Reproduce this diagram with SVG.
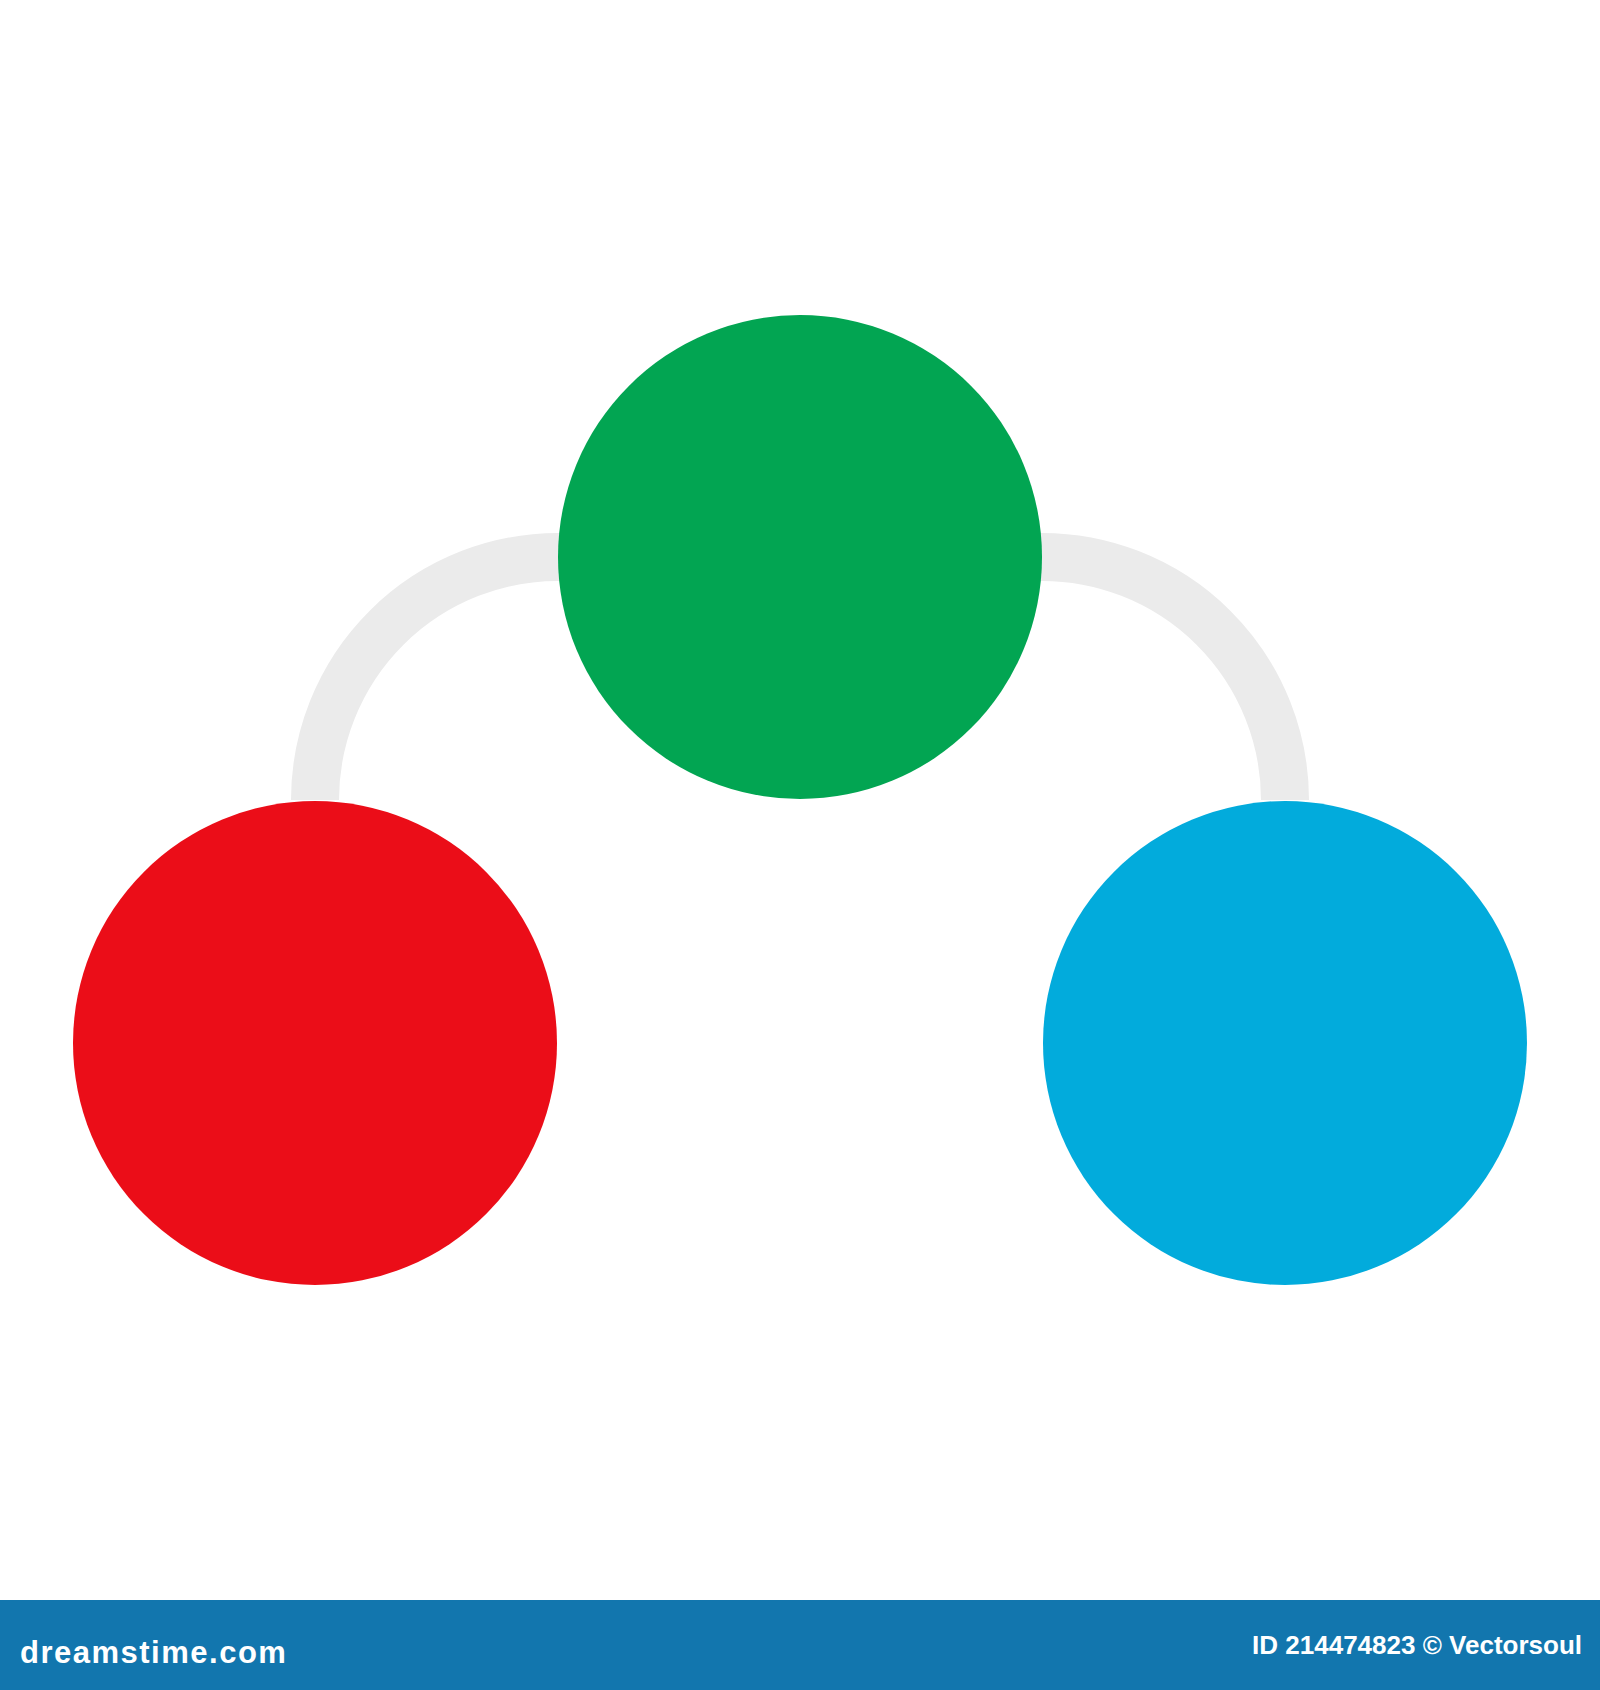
<svg xmlns="http://www.w3.org/2000/svg" width="1600" height="1690" viewBox="0 0 1600 1690">
<style>
.link{fill:none;stroke:#ebebeb;stroke-width:48}
.bar-text{fill:#ffffff;font-family:"Liberation Sans","DejaVu Sans",sans-serif}
</style>
<rect width="1600" height="1690" fill="#ffffff"/>
<g id="connectors">
<path class="link" d="M 560 557 A 243 243 0 0 0 315 800"/>
<path class="link" d="M 1040 557 A 243 243 0 0 1 1285 800"/>
</g>
<g id="node-top"><circle cx="800" cy="557" r="242" fill="#02a552"/></g>
<g id="node-left"><circle cx="315" cy="1043" r="242" fill="#eb0d18"/></g>
<g id="node-right"><circle cx="1285" cy="1043" r="242" fill="#02abdc"/></g>
<g id="footer">
<rect x="0" y="1600" width="1600" height="90" fill="#1276ae"/>
<text class="bar-text" x="20" y="1663" font-size="31" font-weight="600" letter-spacing="1.5" font-family="Inter, sans-serif">dreamstime.com</text>
<text class="bar-text" x="1582" y="1654" font-size="26" font-weight="bold" text-anchor="end" font-family="Roboto, sans-serif">ID 214474823 © Vectorsoul</text>
</g>
</svg>
